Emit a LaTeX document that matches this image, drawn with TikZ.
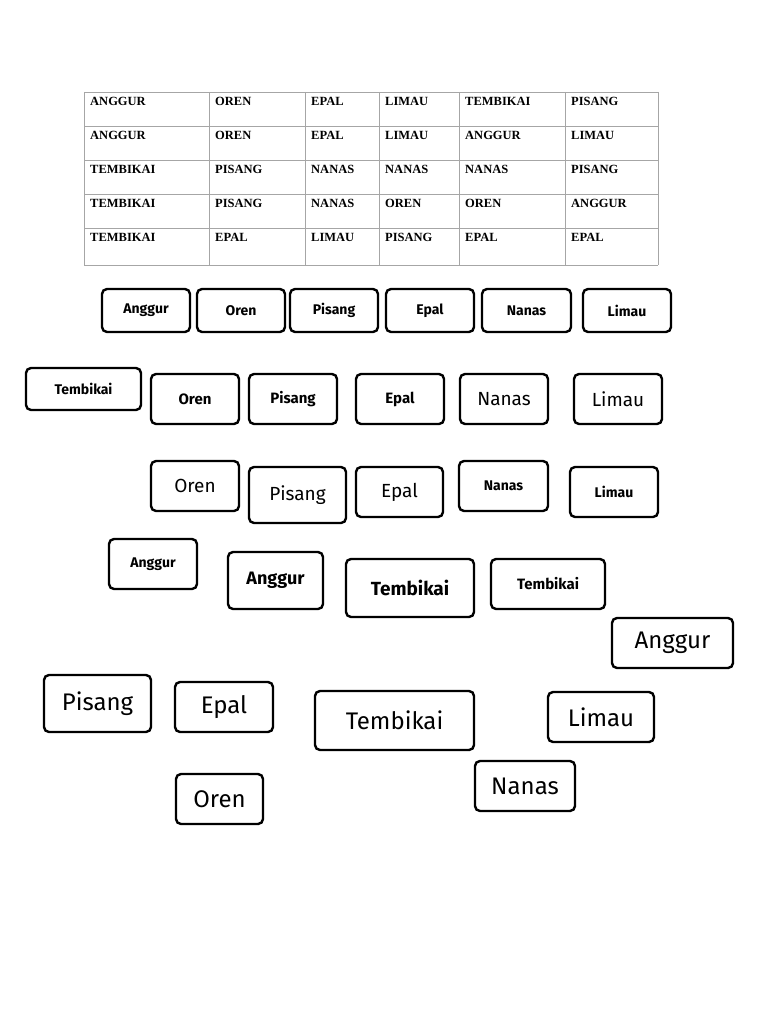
\documentclass[tikz,border=0pt]{standalone}
\usepackage{fontspec}
\setmainfont{Liberation Serif}
\newfontfamily\boxfont{Fira Sans}
\begin{document}
\begin{tikzpicture}[x=1pt,y=-1pt,
  cell/.style={anchor=north west,inner sep=0pt,font=\fontsize{12.5}{13}\selectfont\bfseries},
  card/.style={draw,line width=2.4pt,rounded corners=5pt,inner sep=0pt,font=\boxfont}]
\useasboundingbox (0,0) rectangle (768,1024);
% table
\def\cols{84,209,305,379,459,565,658}
\def\rows{92,126,160,194,228,265}
\foreach \x in \cols {\draw[gray!70,line width=0.6pt] (\x,92) -- (\x,265);}
\foreach \y in \rows {\draw[gray!70,line width=0.6pt] (84,\y) -- (658,\y);}
\foreach \r/\y in {1/97,2/131,3/165,4/199,5/233}{
  \foreach \c/\x in {1/90,2/215,3/311,4/385,5/465,6/571}{
    \coordinate (t\r\c) at (\x,\y);
  }
}
\foreach \r/\a/\b/\cc/\d/\e/\f in {
 1/ANGGUR/OREN/EPAL/LIMAU/TEMBIKAI/PISANG,
 2/ANGGUR/OREN/EPAL/LIMAU/ANGGUR/LIMAU,
 3/TEMBIKAI/PISANG/NANAS/NANAS/NANAS/PISANG,
 4/TEMBIKAI/PISANG/NANAS/OREN/OREN/ANGGUR,
 5/TEMBIKAI/EPAL/LIMAU/PISANG/EPAL/EPAL}{
  \node[cell] (c\r a) at (t\r1) {\a};
  \node[cell] (c\r b) at (t\r2) {\b};
  \node[cell] (c\r c) at (t\r3) {\cc};
  \node[cell] (c\r d) at (t\r4) {\d};
  \node[cell] (c\r e) at (t\r5) {\e};
  \node[cell] (c\r f) at (t\r6) {\f};
}
% cards: name/x1/y1/x2/y2/size/weight/text
\foreach \n/\xa/\ya/\xb/\yb/\s/\w/\t in {
 a1/102/290/190/333/14/b/Anggur, a2/197/290/285/333/14/b/Oren, a3/290/290/378/333/14/b/Pisang,
 a4/386/290/474/333/14/b/Epal, a5/482/290/571/333/14/b/Nanas, a6/583/290/671/333/14/b/Limau,
 b1/26/369/141/411/14/b/Tembikai, b2/151/375/239/425/15/b/Oren, b3/249/375/337/425/15/b/Pisang,
 b4/356/375/444/425/15/b/Epal, b5/460/375/548/425/19/m/Nanas, b6/574/375/662/425/19/m/Limau,
 c1/151/462/239/512/19/m/Oren, c2/249/468/346/524/19/m/Pisang, c3/356/468/443/518/19/m/Epal,
 c4/459/462/548/512/14/b/Nanas, c5/570/468/658/518/14/b/Limau,
 d1/109/540/197/590/14/b/Anggur, d2/228/553/323/610/18/b/Anggur, d3/346/560/474/618/19/b/Tembikai,
 d4/491/560/605/610/15/b/Tembikai, e1/612/619/733/669/24/m/Anggur,
 f1/44/676/151/733/24/m/Pisang, f2/175/683/273/733/24/m/Epal, f3/315/692/474/751/24/m/Tembikai,
 f4/548/693/654/743/24/m/Limau, g1/176/775/263/825/24/m/Oren, g2/475/762/575/812/24/m/Nanas}{
  \node[card,minimum width={\xb-\xa},minimum height={\yb-\ya},
        font=\boxfont\fontsize{\s}{\s}\selectfont\if\w b\bfseries\fi] (\n) at ({(\xa+\xb)/2},{(\ya+\yb)/2-1}) {\t};
}
\end{tikzpicture}
\end{document}
